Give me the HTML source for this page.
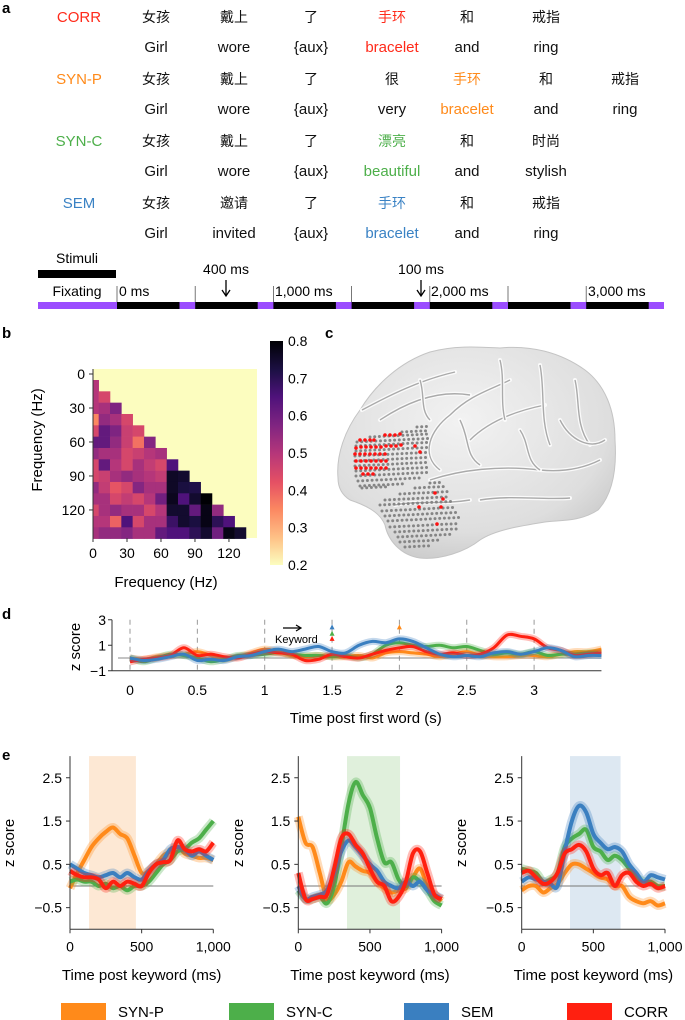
<!DOCTYPE html>
<html><head><meta charset="utf-8">
<style>
html,body{margin:0;padding:0;background:#fff;}
svg{display:block;font-family:"Liberation Sans","Noto Sans CJK SC",sans-serif;}
.cjk{font-family:"Noto Sans CJK SC","WenQuanYi Zen Hei",sans-serif;}
</style></head>
<body>
<svg id="fig" width="685" height="1020" viewBox="0 0 685 1020" xmlns="http://www.w3.org/2000/svg">
<defs>
<linearGradient id="magma" x1="0" y1="1" x2="0" y2="0">
<stop offset="0" stop-color="#fcfdbf"/><stop offset="0.12" stop-color="#fec287"/><stop offset="0.25" stop-color="#fb8761"/><stop offset="0.37" stop-color="#e55064"/><stop offset="0.5" stop-color="#b5367a"/><stop offset="0.62" stop-color="#812581"/><stop offset="0.75" stop-color="#4f127b"/><stop offset="0.87" stop-color="#1c1044"/><stop offset="1" stop-color="#000004"/>
</linearGradient>
<radialGradient id="brainG" cx="0.45" cy="0.35" r="0.75">
<stop offset="0" stop-color="#f2f2f2"/><stop offset="0.7" stop-color="#dedede"/><stop offset="1" stop-color="#c2c2c2"/>
</radialGradient>
</defs>
<g font-size="15" font-weight="bold">
<text x="2" y="13">a</text>
<text x="2" y="338">b</text>
<text x="325" y="338">c</text>
<text x="2" y="619">d</text>
<text x="2" y="760">e</text>
</g>
<g id="panelA"></g>
<g id="timeline"></g>
<g id="panelB"></g>
<g id="panelC"></g>
<g id="panelD"></g>
<g id="panelE"></g>
<g id="legend"></g>
</svg>
<script>
const NS="http://www.w3.org/2000/svg";
function mk(parent,tag,attrs,text){const e=document.createElementNS(NS,tag);for(const k in attrs)e.setAttribute(k,attrs[k]);if(text!==undefined)e.textContent=text;parent.appendChild(e);return e;}

// ---------- Panel A data ----------
const condNames=["CORR","SYN-P","SYN-C","SEM"];
const condColors=["#ff2a1a","#ff8a1a","#4daf4a","#3a82c4"];
const zhRows=[["女孩","戴上","了","手环","和","戒指"],["女孩","戴上","了","很","手环","和","戒指"],["女孩","戴上","了","漂亮","和","时尚"],["女孩","邀请","了","手环","和","戒指"]];
const enRows=[["Girl","wore","{aux}","bracelet","and","ring"],["Girl","wore","{aux}","very","bracelet","and","ring"],["Girl","wore","{aux}","beautiful","and","stylish"],["Girl","invited","{aux}","bracelet","and","ring"]];
const keyIdx=[3,4,3,3];
const colX=[156,234,311,392,467,546,625];
const rowY=[22,84,146,208];
const A=document.getElementById('panelA');
for(let r=0;r<4;r++){
  let t=mk(A,'text',{x:79,y:rowY[r],'text-anchor':'middle','font-size':15,fill:condColors[r]},condNames[r]);
  
  
  for(let c=0;c<zhRows[r].length;c++){
    const col=c===keyIdx[r]?condColors[r]:'#111';
    let z=mk(A,'text',{x:colX[c],y:rowY[r],'text-anchor':'middle','font-size':14,fill:col,'class':'cjk'},zhRows[r][c]);
    
    
    let e=mk(A,'text',{x:colX[c],y:rowY[r]+30,'text-anchor':'middle','font-size':15,fill:col},enRows[r][c]);
    
    
  }
}
// timeline
const T=document.getElementById('timeline');
mk(T,'text',{x:77,y:263,'text-anchor':'middle','font-size':14},'Stimuli');
mk(T,'rect',{x:38,y:270,width:78,height:8,fill:'#000'});
mk(T,'text',{x:77,y:296,'text-anchor':'middle','font-size':14},'Fixating');
mk(T,'rect',{x:38,y:302,width:626,height:7,fill:'#9b4dff'});
for(let i=0;i<7;i++){const x0=117+i*78.2;mk(T,'rect',{x:x0,y:302,width:62.5,height:7,fill:'#000'});
  mk(T,'line',{x1:x0,y1:286,x2:x0,y2:302,stroke:'#555','stroke-width':0.8});}
const tlLabels=[["0 ms",117],["1,000 ms",273],["2,000 ms",429],["3,000 ms",586]];
tlLabels.forEach(l=>mk(T,'text',{x:l[1]+2,y:296,'font-size':14},l[0]));
mk(T,'text',{x:226,y:274,'text-anchor':'middle','font-size':14},'400 ms');
mk(T,'path',{d:'M226 280 V295 M222 290 L226 296 L230 290',stroke:'#000','stroke-width':1.3,fill:'none'});
mk(T,'text',{x:421,y:274,'text-anchor':'middle','font-size':14},'100 ms');
mk(T,'path',{d:'M421 280 V295 M417 290 L421 296 L425 290',stroke:'#000','stroke-width':1.3,fill:'none'});

// ---------- Panel B heatmap ----------
const heatRows=[
[0.5],
[0.5,0.45],
[0.5,0.52,0.58],
[0.35,0.55,0.52,0.45],
[0.45,0.62,0.58,0.47,0.45],
[0.62,0.62,0.55,0.47,0.38,0.57],
[0.55,0.52,0.52,0.45,0.47,0.5,0.52],
[0.45,0.62,0.5,0.45,0.52,0.48,0.45,0.65],
[0.45,0.47,0.52,0.55,0.52,0.5,0.48,0.76,0.75],
[0.55,0.48,0.42,0.45,0.57,0.52,0.52,0.76,0.73,0.72],
[0.52,0.52,0.45,0.48,0.45,0.5,0.6,0.77,0.65,0.75,0.8],
[0.45,0.52,0.55,0.52,0.52,0.45,0.5,0.75,0.75,0.62,0.78,0.55],
[0.5,0.5,0.4,0.65,0.45,0.52,0.52,0.68,0.75,0.73,0.78,0.7,0.65],
[0.52,0.55,0.55,0.57,0.52,0.52,0.62,0.65,0.65,0.7,0.75,0.6,0.78,0.75]];
const freqTicks=[0,30,60,90,120];
const cbTicks=[0.2,0.3,0.4,0.5,0.6,0.7,0.8];
const magma=[[252,253,191],[254,194,135],[251,135,97],[229,80,100],[181,54,122],[129,37,129],[79,18,123],[28,16,68],[0,0,4]];
function cmap(v){let t=Math.max(0,Math.min(1,(v-0.2)/0.6))*(magma.length-1);const i=Math.min(magma.length-2,Math.floor(t));const f=t-i;const a=magma[i],b=magma[i+1];return `rgb(${a.map((c,k)=>Math.round(c+(b[k]-c)*f)).join(',')})`;}
const B=document.getElementById('panelB');
const hL=93,hT=369,hR=257,hB=538,cell=11.33;
const fx=f=>hL+f*cell/10, fy=f=>hT+5+f*cell/10;
mk(B,'rect',{x:hL,y:hT,width:hR-hL,height:hB-hT,fill:'#fcfdbf'});
heatRows.forEach((row,i)=>{row.forEach((v,j)=>{
  const x0=j===0?hL:hL+5.67+(j-1)*cell, w=j===0?5.67:cell;
  const r=mk(B,'rect',{x:x0,y:hT+11+i*cell,width:w+0.3,height:cell+0.3,fill:cmap(v)});
  
  
});});
mk(B,'line',{x1:hL,y1:hT,x2:hL,y2:hB+4,stroke:'#333','stroke-width':1});
freqTicks.forEach(f=>{
  mk(B,'line',{x1:hL-4,y1:fy(f),x2:hL,y2:fy(f),stroke:'#333'});
  mk(B,'text',{x:hL-8,y:fy(f)+5,'text-anchor':'end','font-size':14},f);
  mk(B,'line',{x1:fx(f),y1:hB,x2:fx(f),y2:hB+4,stroke:'#333'});
  mk(B,'text',{x:fx(f),y:hB+20,'text-anchor':'middle','font-size':14},f);
});
let yt=mk(B,'text',{x:0,y:0,transform:'translate(42,440) rotate(-90)','text-anchor':'middle','font-size':15},'Frequency (Hz)');


let xt=mk(B,'text',{x:166,y:587,'text-anchor':'middle','font-size':15},'Frequency (Hz)');


const cbT=341,cbB=565;
let cb=mk(B,'rect',{x:270,y:cbT,width:13,height:cbB-cbT,fill:'url(#magma)'});


cbTicks.forEach(v=>{const y=cbB-(v-0.2)/0.6*(cbB-cbT);mk(B,'text',{x:288,y:y+5,'font-size':14},v.toFixed(1));});

// ---------- Panel C brain ----------
const C=document.getElementById('panelC');
const brainPath="M338 478 C336 455 345 430 360 410 C375 385 400 362 430 352 C455 345 480 347 500 348 C530 345 560 352 585 370 C605 385 615 410 615 440 C617 470 612 495 598 510 C580 522 560 520 545 522 C520 526 495 530 480 540 C465 552 440 560 420 558 C400 555 388 540 385 525 C380 512 365 505 350 500 C342 495 338 488 338 478 Z";
mk(C,'path',{d:brainPath,fill:'url(#brainG)',stroke:'#c4c4c4','stroke-width':1});
const sulci=["M362 410 C390 395 420 380 455 372","M380 420 C410 400 440 390 470 395","M440 470 C420 455 430 430 450 415 C470 395 490 390 510 380","M470 440 C490 420 520 410 545 405","M430 480 C460 470 500 465 540 470 C560 472 580 470 600 460","M480 500 C510 495 540 500 570 498","M500 360 C505 380 500 400 505 420","M540 365 C545 390 540 420 550 445","M575 380 C580 400 575 425 590 445","M395 505 C420 500 440 505 470 500","M520 430 C530 445 525 460 540 470","M460 420 C470 440 465 455 480 465","M560 420 C570 440 590 450 605 440","M420 380 C425 395 420 410 430 420"];
sulci.forEach(d=>{mk(C,'path',{d:d,fill:'none',stroke:'#fafafa','stroke-width':4,'stroke-linecap':'round'});mk(C,'path',{d:d,fill:'none',stroke:'#aaaaaa','stroke-width':1.4});});
function grid(rows){rows.forEach(r=>{for(let x=r[1];x<=r[2]+0.1;x+=4.7){mk(C,'circle',{cx:x,cy:r[0]+(x-r[1])*-0.05,r:1.5,fill:'#858585'});}});}
const frontRows=[[427,417,428],[432,402,428],[437,370,429],[442,357,429],[446,356,430],[451,356,430],[456,355,430],[461,355,430],[466,355,430],[471,356,430],[476,356,430],[481,358,420],[486,360,405],[488,362,390]];
const tempRows=[[483,430,443],[488,415,446],[494,400,448],[500,385,450],[505,380,452],[511,382,454],[516,385,458],[521,388,460],[527,390,460],[532,395,458],[537,398,450],[542,400,440],[547,405,430]];
grid(frontRows);grid(tempRows);
const redDots=[[360,452],[365,452],[370,452],[374,452],[385,447],[390,447],[395,447],[400,446],[356,460],[361,459],[366,459],[371,459],[376,459],[381,459],[386,458],[391,458],[396,458],[401,457],[355,466],[360,466],[365,466],[370,466],[375,466],[380,466],[385,466],[356,473],[361,473],[366,473],[371,473],[376,473],[381,473],[386,473],[356,480],[361,480],[366,480],[371,480],[376,480],[381,480],[386,480],[363,486],[368,486],[373,486],[415,458],[420,464],[435,505],[443,511],[419,519],[441,519],[437,536]];
redDots.forEach(p=>{const c=mk(C,'circle',{cx:p[0],cy:p[1]-12,r:1.8,fill:'#ff1010'});});

// ---------- Panel D ----------
const dTimes=[0,0.1,0.2,0.3,0.4,0.5,0.6,0.7,0.8,0.9,1.0,1.1,1.2,1.3,1.4,1.5,1.6,1.7,1.8,1.9,2.0,2.1,2.2,2.3,2.4,2.5,2.6,2.7,2.8,2.9,3.0,3.1,3.2,3.3,3.4,3.5];
const dOrange=[0,-0.1,0.1,0.2,0.3,0.5,0.2,-0.1,0.1,0.4,0.7,0.5,0.2,0.1,0.2,0.1,0.1,0.2,0,0.4,0.5,0.4,0.3,0.1,0.3,0.5,0.2,0.1,0.1,0.2,0.2,0.1,0.3,0.5,0.5,0.7];
const dGreen=[0,-0.3,0,0.3,0.2,0,-0.3,-0.1,0.2,0.2,0.3,0.4,0.3,0.2,0.2,0.1,0.2,0,0.3,1.0,1.2,1.0,0.9,1.0,0.8,0.9,0.6,0.3,0.4,0.3,0.5,0.2,0.3,0.3,0.4,0.4];
const dBlue=[0,-0.2,-0.1,0.1,0.3,-0.2,-0.1,-0.2,0.1,0.2,0.5,0.7,0.5,0.7,0.9,0.5,0.4,1.0,1.3,1.2,1.5,1.3,0.8,0.3,0.1,0.2,0.1,0.4,0.5,0.3,0.5,0.8,0.6,0.1,0.2,0.2];
const dRed=[-0.3,-0.1,0,0.2,0.8,0.2,0.3,0.1,0,0.3,0.5,0.4,0.3,-0.2,-0.1,0.3,0.1,0,0.3,0.6,0.8,0.9,0.5,0.3,0.4,0.2,0.3,0.8,1.8,1.7,1.5,0.8,0.6,0.2,0.3,0.4];
const dXTicks=[0,0.5,1,1.5,2,2.5,3];
const dYTicks=[3,1,-1];
const seriesColors={orange:"#ff8a1a",green:"#4daf4a",blue:"#3a7fc0",red:"#ff2010"};
function smooth(pts){let d=`M${pts[0][0]},${pts[0][1]}`;for(let i=0;i<pts.length-1;i++){const p0=pts[Math.max(0,i-1)],p1=pts[i],p2=pts[i+1],p3=pts[Math.min(pts.length-1,i+2)];const c1=[p1[0]+(p2[0]-p0[0])/6,p1[1]+(p2[1]-p0[1])/6],c2=[p2[0]-(p3[0]-p1[0])/6,p2[1]-(p3[1]-p1[1])/6];d+=`C${c1[0].toFixed(1)},${c1[1].toFixed(1)} ${c2[0].toFixed(1)},${c2[1].toFixed(1)} ${p2[0].toFixed(1)},${p2[1].toFixed(1)}`;}return d;}
const D=document.getElementById('panelD');
const dx=t=>130+t*134.7, dy=v=>658-v*12.75;
dXTicks.forEach(t=>{ mk(D,'line',{x1:dx(t),y1:dy(3),x2:dx(t),y2:dy(-1),stroke:'#999','stroke-dasharray':'5,4','stroke-width':1});});
mk(D,'line',{x1:dx(0)-12,y1:dy(0),x2:dx(3.5),y2:dy(0),stroke:'#888','stroke-width':1});
[["orange",dOrange],["green",dGreen],["red",dRed],["blue",dBlue]].forEach(s=>{
  const pts=dTimes.map((t,i)=>[dx(t),dy(s[1][i])]);const d=smooth(pts);
  mk(D,'path',{d:d,fill:'none',stroke:seriesColors[s[0]],'stroke-width':7,'stroke-opacity':0.3,'stroke-linejoin':'round'});
  const l=mk(D,'path',{d:d,fill:'none',stroke:seriesColors[s[0]],'stroke-width':3,'stroke-linejoin':'round'});
  
  
});
const dAxL=112;
mk(D,'line',{x1:dAxL,y1:dy(3),x2:dAxL,y2:dy(-1),stroke:'#333'});
mk(D,'line',{x1:dAxL,y1:dy(-1),x2:dx(3.5),y2:dy(-1),stroke:'#333'});
dYTicks.forEach(v=>{mk(D,'line',{x1:dAxL-4,y1:dy(v),x2:dAxL,y2:dy(v),stroke:'#333'});mk(D,'text',{x:dAxL-6,y:dy(v)+5,'text-anchor':'end','font-size':14},v<0?'\u22121':v);});
dXTicks.forEach(t=>mk(D,'text',{x:dx(t),y:dy(-1)+24,'text-anchor':'middle','font-size':14},t));
mk(D,'text',{x:0,y:0,transform:'translate(80,647) rotate(-90)','text-anchor':'middle','font-size':15},'z score');
mk(D,'text',{x:dx(1.75),y:723,'text-anchor':'middle','font-size':15},'Time post first word (s)');
mk(D,'text',{x:275,y:643,'font-size':11},'Keyword');
mk(D,'path',{d:'M283 628 H300 M296 625 L301 628 L296 631',stroke:'#000','stroke-width':1.2,fill:'none'});
[[1.5,2.4,'blue'],[1.5,1.9,'green'],[1.5,1.5,'red'],[2.0,2.4,'orange']].forEach(m=>{const x=dx(m[0]),y=dy(m[1]);mk(D,'path',{d:`M${x-2.5},${y+2} L${x},${y-3} L${x+2.5},${y+2}Z`,fill:seriesColors[m[2]]});});

// ---------- Panel E ----------
const eTimes=[0,50,100,150,200,250,300,350,400,450,500,550,600,650,700,750,800,850,900,950,1000];
const e1Orange=[-0.05,0.3,0.6,0.9,1.1,1.25,1.35,1.2,1.1,0.7,0.3,0.35,0.5,0.7,0.8,0.9,0.75,0.7,0.65,0.65,0.6];
const e1Green=[0.1,0.15,0.1,0.1,0,0.05,-0.05,0,-0.1,0,0,0.1,0.3,0.5,0.6,0.8,0.85,1.0,1.1,1.3,1.5];
const e1Blue=[0.5,0.4,0.3,0.25,0.2,0.25,0.3,0.2,0.3,0.2,0.15,0.35,0.5,0.6,0.85,0.9,0.85,0.7,0.8,0.7,0.6];
const e1Red=[0.35,0.25,0.2,0.2,0.15,-0.05,0.1,0,0.1,0.05,0,0.3,0.5,0.55,0.6,1.05,0.85,0.8,0.85,0.8,1.0];
const e2Orange=[1.6,1.0,0.9,0.3,-0.3,-0.2,0.1,0.55,0.45,0.35,0.3,0.1,-0.05,-0.15,-0.1,-0.05,0.2,0.4,0,-0.2,-0.35];
const e2Green=[-0.1,-0.3,-0.3,-0.25,-0.4,0,0.9,1.9,2.4,2.1,1.8,1.1,0.55,0.55,0.15,0,0.2,0.1,-0.1,-0.35,-0.45];
const e2Blue=[0,-0.3,-0.25,-0.2,-0.1,0.3,0.8,1.05,0.9,0.7,0.5,0.35,0.1,0,-0.05,0.1,0,0.1,-0.1,-0.2,-0.3];
const e2Red=[0.3,-0.3,-0.3,-0.25,-0.2,0.4,1.1,1.2,0.95,0.75,0.4,0.1,0,-0.35,-0.25,0.1,0.75,0.8,0.3,-0.2,-0.3];
const e3Orange=[-0.1,0,0,-0.15,-0.05,0.05,0.3,0.5,0.5,0.4,0.3,0.2,0.15,0,0,-0.25,-0.35,-0.4,-0.35,-0.45,-0.4];
const e3Green=[0.4,0.35,0.3,0.1,0.15,0.3,0.9,1.1,1.2,1.3,0.9,0.8,0.6,0.7,0.6,0.4,0.2,0.1,0.1,0,0];
const e3Blue=[0.1,0.2,0.15,0.1,0.05,0,0.8,1.5,1.85,1.7,1.2,1.0,0.85,0.9,0.8,0.5,0.3,0.1,0.25,0.2,0.15];
const e3Red=[0.3,0.35,0.2,0.05,0.1,0.3,0.75,0.85,0.95,0.8,0.4,0.25,0.3,0,0.25,0.3,0.1,0,0.05,-0.05,0];
const eWindows=[[133,460],[340,710],[337,690]];
const eYTicks=[2.5,1.5,0.5,-0.5];
const eXTicks=[0,500,1000];
const E=document.getElementById('panelE');
const panels=[{x0:70,shade:'#fde8d4',s:[["orange",e1Orange],["green",e1Green],["blue",e1Blue],["red",e1Red]],ty:14},
{x0:298.3,shade:'#e0f0dc',s:[["orange",e2Orange],["green",e2Green],["blue",e2Blue],["red",e2Red]],ty:243},
{x0:521.7,shade:'#dde8f2',s:[["orange",e3Orange],["green",e3Green],["blue",e3Blue],["red",e3Red]],ty:466}];
const ey=v=>886-v*43.3;
panels.forEach((p,pi)=>{
  const ex=t=>p.x0+t*0.1433;
  const g=mk(E,'g',{});
  
  
  mk(g,'rect',{x:ex(eWindows[pi][0]),y:ey(3),width:ex(eWindows[pi][1])-ex(eWindows[pi][0]),height:ey(-1)-ey(3),fill:p.shade});
  mk(g,'line',{x1:ex(0),y1:ey(0),x2:ex(1000),y2:ey(0),stroke:'#777','stroke-width':1});
  p.s.forEach(s=>{
    const pts=eTimes.map((t,i)=>[ex(t),ey(s[1][i])]);const d=smooth(pts);
    mk(g,'path',{d:d,fill:'none',stroke:seriesColors[s[0]],'stroke-width':9,'stroke-opacity':0.3,'stroke-linejoin':'round'});
    const l=mk(g,'path',{d:d,fill:'none',stroke:seriesColors[s[0]],'stroke-width':4,'stroke-linejoin':'round'});
    
    
  });
  mk(g,'line',{x1:ex(0),y1:ey(3),x2:ex(0),y2:ey(-1),stroke:'#333'});
  mk(g,'line',{x1:ex(0),y1:ey(-1),x2:ex(1000),y2:ey(-1),stroke:'#333'});
  eYTicks.forEach(v=>{mk(g,'line',{x1:ex(0)-4,y1:ey(v),x2:ex(0),y2:ey(v),stroke:'#333'});mk(g,'text',{x:ex(0)-8,y:ey(v)+5,'text-anchor':'end','font-size':14},v<0?'\u2212'+Math.abs(v):v);});
  eXTicks.forEach(t=>{mk(g,'line',{x1:ex(t),y1:ey(-1),x2:ex(t),y2:ey(-1)+4,stroke:'#333'});mk(g,'text',{x:ex(t),y:ey(-1)+22,'text-anchor':'middle','font-size':14},t===1000?'1,000':t);});
  mk(g,'text',{x:0,y:0,transform:`translate(${p.ty},843) rotate(-90)`,'text-anchor':'middle','font-size':15},'z score');
  mk(g,'text',{x:ex(500),y:980,'text-anchor':'middle','font-size':15},'Time post keyword (ms)');
});

// ---------- Legend ----------
const legNames=["SYN-P","SYN-C","SEM","CORR"];
const legKeys=["orange","green","blue","red"];
const legX=[61,229,404,567];
const L=document.getElementById('legend');
legNames.forEach((n,i)=>{
  const g=mk(L,'g',{});
  
  
  mk(g,'rect',{x:legX[i],y:1003,width:45,height:17,fill:seriesColors[legKeys[i]]});
  mk(g,'text',{x:legX[i]+57,y:1017,'font-size':15},n);
});
</script>
</body></html>
